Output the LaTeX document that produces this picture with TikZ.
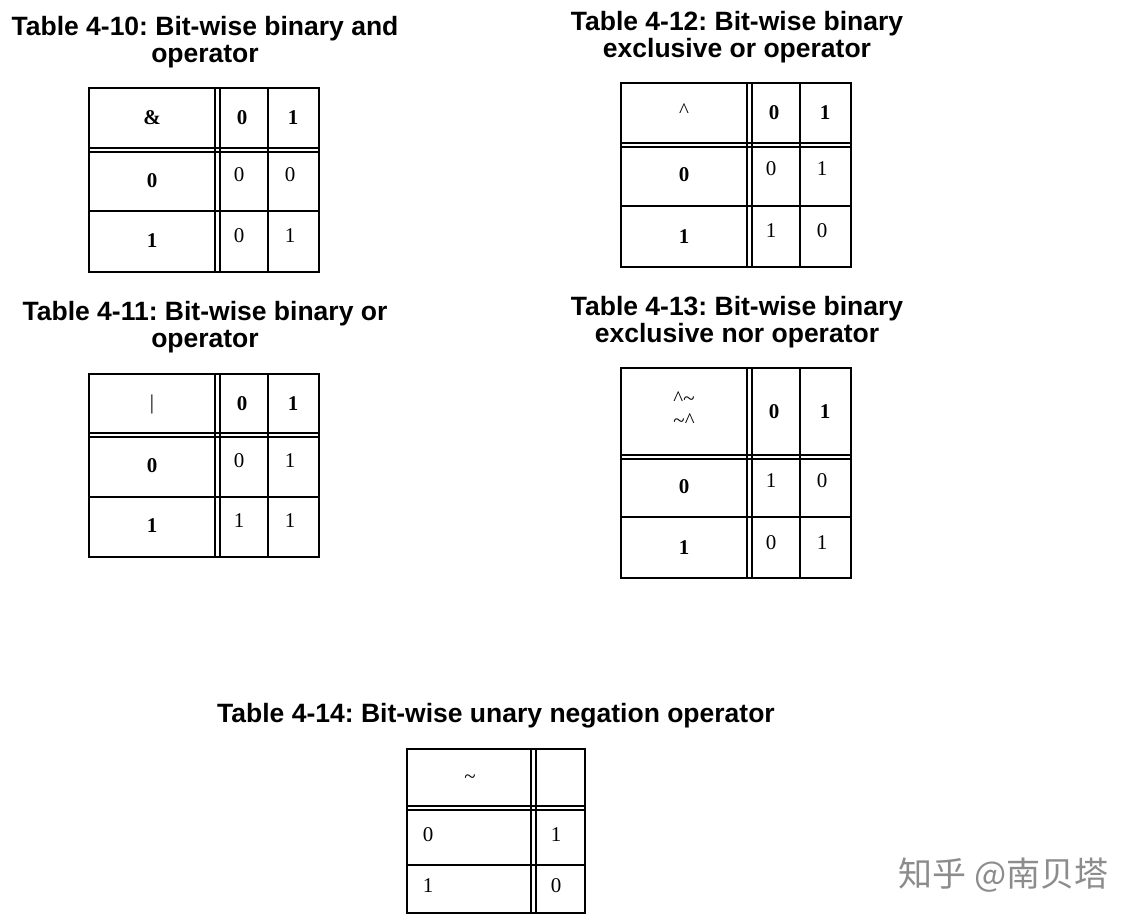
\documentclass[tikz,border=0pt]{standalone}
\usepackage{fontspec}
\setmainfont{Liberation Serif}
\setsansfont{Liberation Sans}
\newfontfamily\cjk{Noto Sans CJK SC}
\frenchspacing
\tikzset{ttl/.style={font=\sffamily\bfseries\fontsize{26.5}{27}\selectfont,align=center,inner sep=0},
cell/.style={font=\fontsize{21}{22}\selectfont,inner sep=0},
bcell/.style={font=\bfseries\fontsize{21}{22}\selectfont,inner sep=0},
frame/.style={line width=2.2pt},
thin/.style={line width=1.3pt}}
\newcommand\dtable[9]{% x0 x1 xd xs y0 y1 yd yr
  \draw[frame] (#1,#5) rectangle (#2,#6);
  \draw[thin] (#1,#7) -- (#2,#7) (#1,#7+4) -- (#2,#7+4);
  \draw[frame] (#1,#8) -- (#2,#8);
  \draw[thin] (#3,#5) -- (#3,#6) (#3+5,#5) -- (#3+5,#6);
  \draw[frame] (#4,#5) -- (#4,#6);
}
\begin{document}
\begin{tikzpicture}[x=1pt,y=-1pt]
\useasboundingbox (0,0) rectangle (1139,921);
% 4-10
\node[ttl] (t10) at (205,42) {Table 4-10: Bit-wise binary and\\operator};
\dtable{89}{319}{215}{268}{88}{272}{148}{211}{}
\node[bcell] at (152,118) {\&}; \node[bcell] at (242,118) {0}; \node[bcell] at (293,118) {1};
\node[bcell] at (152,181) {0}; \node[cell] at (239,175) {0}; \node[cell] at (290,175) {0};
\node[bcell] at (152,241) {1}; \node[cell] at (239,236) {0}; \node[cell] at (290,236) {1};
% 4-11
\node[ttl] (t11) at (205,327) {Table 4-11: Bit-wise binary or\\operator};
\dtable{89}{319}{215}{268}{374}{557}{433}{497}{}
\node[cell] at (152,404) {|}; \node[bcell] at (242,404) {0}; \node[bcell] at (293,404) {1};
\node[bcell] at (152,466) {0}; \node[cell] at (239,461) {0}; \node[cell] at (290,461) {1};
\node[bcell] at (152,526) {1}; \node[cell] at (239,521) {1}; \node[cell] at (290,521) {1};
% 4-12
\node[ttl] (t12) at (737,37) {Table 4-12: Bit-wise binary\\exclusive or operator};
\dtable{621}{851}{747}{800}{83}{267}{143}{206}{}
\node[cell] at (684,111) {\^{}}; \node[bcell] at (774,113) {0}; \node[bcell] at (825,113) {1};
\node[bcell] at (684,175) {0}; \node[cell] at (771,169) {0}; \node[cell] at (822,169) {1};
\node[bcell] at (684,237) {1}; \node[cell] at (771,231) {1}; \node[cell] at (822,231) {0};
% 4-13
\node[ttl] (t13) at (737,322) {Table 4-13: Bit-wise binary\\exclusive nor operator};
\dtable{621}{851}{747}{800}{368}{578}{455}{517}{}
\node[cell,align=center] at (684,410) {\^{}\textasciitilde\\\textasciitilde\^{}};
\node[bcell] at (774,412) {0}; \node[bcell] at (825,412) {1};
\node[bcell] at (684,487) {0}; \node[cell] at (771,481) {1}; \node[cell] at (822,481) {0};
\node[bcell] at (684,548) {1}; \node[cell] at (771,543) {0}; \node[cell] at (822,543) {1};
% 4-14
\node[ttl] (t14) at (496,716) {Table 4-14: Bit-wise unary negation operator};
\draw[frame] (407,749) rectangle (585,913);
\draw[thin] (407,806) -- (585,806) (407,810) -- (585,810);
\draw[frame] (407,865) -- (585,865);
\draw[thin] (531,749) -- (531,913) (536,749) -- (536,913);
\node[cell] at (470,779) {\textasciitilde};
\node[cell] at (428,835) {0}; \node[cell] at (556,835) {1};
\node[cell] at (428,886) {1}; \node[cell] at (556,886) {0};
% watermark
\node[font=\cjk\fontsize{34}{36}\selectfont,text=black!45,anchor=east] (wm) at (1112,875) {知乎 @南贝塔};
\end{tikzpicture}
\end{document}
